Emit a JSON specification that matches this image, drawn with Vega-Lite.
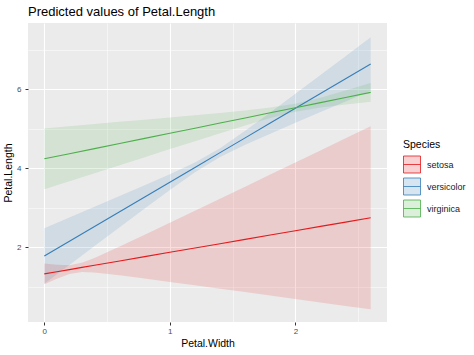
{
  "$schema": "https://vega.github.io/schema/vega-lite/v6.json",
  "width": 359,
  "height": 299,
  "autosize": {"type": "none"},
  "padding": {"left": 28, "top": 23, "right": 87, "bottom": 33},
  "background": "white",
  "title": {
    "text": "Predicted values of Petal.Length",
    "anchor": "start",
    "frame": "group",
    "font": "Liberation Sans",
    "fontSize": 13,
    "fontWeight": "normal",
    "color": "#000000",
    "offset": 4
  },
  "config": {
    "view": {"fill": "#EBEBEB", "stroke": null},
    "font": "Liberation Sans",
    "axis": {
      "domain": false,
      "gridColor": "#FFFFFF",
      "tickColor": "#333333",
      "tickSize": 3,
      "labelColor": "#4D4D4D",
      "labelFont": "Liberation Sans",
      "labelFontSize": 8,
      "titleFont": "Liberation Sans",
      "titleFontSize": 10.5,
      "titleFontWeight": "normal",
      "titleColor": "#000000"
    }
  },
  "data": {
    "values": [
      {"x": 0, "predicted": 1.328, "lo": 1.065, "hi": 1.591, "Species": "setosa"},
      {"x": 0.1, "predicted": 1.382, "lo": 1.206, "hi": 1.559, "Species": "setosa"},
      {"x": 0.2, "predicted": 1.437, "lo": 1.325, "hi": 1.549, "Species": "setosa"},
      {"x": 0.3, "predicted": 1.492, "lo": 1.376, "hi": 1.607, "Species": "setosa"},
      {"x": 0.4, "predicted": 1.546, "lo": 1.363, "hi": 1.729, "Species": "setosa"},
      {"x": 0.6, "predicted": 1.656, "lo": 1.293, "hi": 2.019, "Species": "setosa"},
      {"x": 0.8, "predicted": 1.765, "lo": 1.211, "hi": 2.319, "Species": "setosa"},
      {"x": 1.0, "predicted": 1.874, "lo": 1.125, "hi": 2.623, "Species": "setosa"},
      {"x": 1.2, "predicted": 1.983, "lo": 1.039, "hi": 2.927, "Species": "setosa"},
      {"x": 1.4, "predicted": 2.093, "lo": 0.953, "hi": 3.232, "Species": "setosa"},
      {"x": 1.6, "predicted": 2.202, "lo": 0.867, "hi": 3.537, "Species": "setosa"},
      {"x": 1.8, "predicted": 2.311, "lo": 0.779, "hi": 3.843, "Species": "setosa"},
      {"x": 2.0, "predicted": 2.421, "lo": 0.693, "hi": 4.149, "Species": "setosa"},
      {"x": 2.2, "predicted": 2.530, "lo": 0.606, "hi": 4.454, "Species": "setosa"},
      {"x": 2.4, "predicted": 2.639, "lo": 0.518, "hi": 4.760, "Species": "setosa"},
      {"x": 2.6, "predicted": 2.749, "lo": 0.432, "hi": 5.066, "Species": "setosa"},
      {"x": 0, "predicted": 1.781, "lo": 1.079, "hi": 2.484, "Species": "versicolor"},
      {"x": 0.2, "predicted": 2.155, "lo": 1.556, "hi": 2.754, "Species": "versicolor"},
      {"x": 0.4, "predicted": 2.529, "lo": 2.033, "hi": 3.025, "Species": "versicolor"},
      {"x": 0.6, "predicted": 2.903, "lo": 2.509, "hi": 3.297, "Species": "versicolor"},
      {"x": 0.8, "predicted": 3.277, "lo": 2.983, "hi": 3.571, "Species": "versicolor"},
      {"x": 1.0, "predicted": 3.650, "lo": 3.451, "hi": 3.850, "Species": "versicolor"},
      {"x": 1.2, "predicted": 4.024, "lo": 3.902, "hi": 4.146, "Species": "versicolor"},
      {"x": 1.4, "predicted": 4.398, "lo": 4.288, "hi": 4.508, "Species": "versicolor"},
      {"x": 1.6, "predicted": 4.772, "lo": 4.596, "hi": 4.949, "Species": "versicolor"},
      {"x": 1.8, "predicted": 5.146, "lo": 4.877, "hi": 5.415, "Species": "versicolor"},
      {"x": 2.0, "predicted": 5.520, "lo": 5.152, "hi": 5.887, "Species": "versicolor"},
      {"x": 2.2, "predicted": 5.894, "lo": 5.424, "hi": 6.363, "Species": "versicolor"},
      {"x": 2.4, "predicted": 6.268, "lo": 5.695, "hi": 6.840, "Species": "versicolor"},
      {"x": 2.6, "predicted": 6.641, "lo": 5.966, "hi": 7.317, "Species": "versicolor"},
      {"x": 0, "predicted": 4.241, "lo": 3.469, "hi": 5.012, "Species": "virginica"},
      {"x": 0.2, "predicted": 4.370, "lo": 3.674, "hi": 5.067, "Species": "virginica"},
      {"x": 0.4, "predicted": 4.500, "lo": 3.878, "hi": 5.122, "Species": "virginica"},
      {"x": 0.6, "predicted": 4.629, "lo": 4.081, "hi": 5.177, "Species": "virginica"},
      {"x": 0.8, "predicted": 4.758, "lo": 4.284, "hi": 5.232, "Species": "virginica"},
      {"x": 1.0, "predicted": 4.888, "lo": 4.487, "hi": 5.288, "Species": "virginica"},
      {"x": 1.2, "predicted": 5.017, "lo": 4.689, "hi": 5.345, "Species": "virginica"},
      {"x": 1.4, "predicted": 5.147, "lo": 4.889, "hi": 5.404, "Species": "virginica"},
      {"x": 1.6, "predicted": 5.276, "lo": 5.086, "hi": 5.467, "Species": "virginica"},
      {"x": 1.8, "predicted": 5.406, "lo": 5.272, "hi": 5.539, "Species": "virginica"},
      {"x": 2.0, "predicted": 5.535, "lo": 5.432, "hi": 5.638, "Species": "virginica"},
      {"x": 2.2, "predicted": 5.665, "lo": 5.543, "hi": 5.786, "Species": "virginica"},
      {"x": 2.4, "predicted": 5.794, "lo": 5.619, "hi": 5.968, "Species": "virginica"},
      {"x": 2.6, "predicted": 5.923, "lo": 5.684, "hi": 6.163, "Species": "virginica"}
    ]
  },
  "encoding": {
    "x": {
      "field": "x",
      "type": "quantitative",
      "title": "Petal.Width",
      "scale": {"domain": [-0.13, 2.73], "nice": false, "zero": false},
      "axis": {
        "values": [0, 0.5, 1, 1.5, 2, 2.5],
        "labelExpr": "datum.value % 1 === 0 ? format(datum.value, 'd') : ''",
        "labelPadding": 2,
        "labelFlush": false,
        "labelOverlap": false,
        "titlePadding": 3,
        "gridWidth": {"condition": {"test": "datum.value % 1 !== 0", "value": 0.5}, "value": 1.1},
        "tickOpacity": {"condition": {"test": "datum.value % 1 !== 0", "value": 0}, "value": 1}
      }
    },
    "color": {
      "field": "Species",
      "type": "nominal",
      "scale": {"domain": ["setosa", "versicolor", "virginica"], "range": ["#E41A1C", "#377EB8", "#4DAF4A"]},
      "legend": {
        "orient": "none",
        "legendX": 375,
        "legendY": 117,
        "padding": 0,
        "title": "Species",
        "titleFont": "Liberation Sans",
        "titleFontSize": 10.5,
        "titleFontWeight": "normal",
        "titleColor": "#000000",
        "titlePadding": 5,
        "labelFont": "Liberation Sans",
        "labelFontSize": 9,
        "labelColor": "#1A1A1A",
        "labelOffset": 6,
        "rowPadding": 0,
        "symbolType": "M-1,-1H1V1H-1Z M-1,0H1",
        "symbolSize": 289,
        "encode": {
          "symbols": {
            "update": {
              "fill": {"scale": "color", "field": "value"},
              "fillOpacity": {"value": 0.2},
              "stroke": {"scale": "color", "field": "value"},
              "strokeOpacity": {"value": 0.9},
              "strokeWidth": {"value": 0.9},
              "opacity": {"value": 1}
            }
          }
        }
      }
    }
  },
  "layer": [
    {
      "mark": {"type": "area", "fillOpacity": 0.15},
      "encoding": {
        "y": {
          "field": "lo",
          "type": "quantitative",
          "title": "Petal.Length",
          "scale": {"domain": [0.11, 7.68], "nice": false, "zero": false},
          "axis": {
            "values": [1, 2, 3, 4, 5, 6, 7],
            "labelExpr": "datum.value % 2 === 0 ? datum.label : ''",
            "labelPadding": 4,
            "labelFlush": false,
            "labelOverlap": false,
            "titlePadding": 3,
            "gridWidth": {"condition": {"test": "datum.value % 2 !== 0", "value": 0.5}, "value": 1.1},
            "tickOpacity": {"condition": {"test": "datum.value % 2 !== 0", "value": 0}, "value": 1}
          }
        },
        "y2": {"field": "hi"}
      }
    },
    {
      "mark": {"type": "line", "strokeWidth": 1.1},
      "encoding": {
        "y": {"field": "predicted", "type": "quantitative"}
      }
    }
  ]
}
